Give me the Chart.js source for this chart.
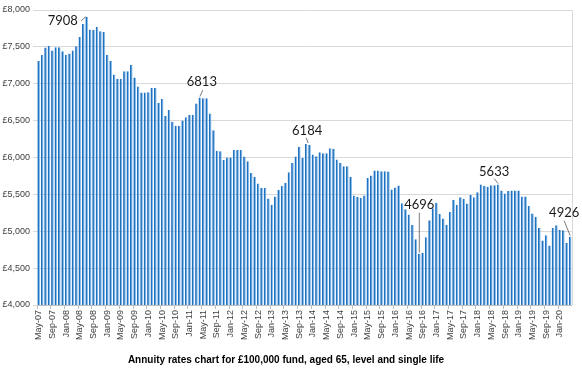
<!DOCTYPE html>
<html><head><meta charset="utf-8">
<script src="https://cdn.jsdelivr.net/npm/chart.js@4/dist/chart.umd.min.js"></script>
<style>html,body{margin:0;padding:0;background:#fff}#wrap{width:582px;height:380px;position:relative}</style>
</head><body><div id="wrap"><canvas id="c" width="582" height="380"></canvas></div>
<script>
// Monthly categories May-07 .. Apr-20
const monthNames = ['Jan','Feb','Mar','Apr','May','Jun','Jul','Aug','Sep','Oct','Nov','Dec'];
const startYear = 2007, startMonth = 4, monthCount = 156;
const categories = [];
for (let k = 0; k < monthCount; k++) {
  const m = (startMonth + k) % 12, y = startYear + Math.floor((startMonth + k) / 12);
  categories.push(monthNames[m] + '-' + String(y % 100).padStart(2, '0'));
}
// Annuity income (£ per year) for £100,000 fund
const annuityRates = [
  7310,7390,7490,7515,7452,7495,7495,7441,7390,7410,7452,7507,
  7635,7810,7908,7735,7730,7774,7713,7701,7390,7310,7126,7068,
  7068,7170,7170,7255,7086,6963,6882,6882,6886,6941,6941,6740,
  6792,6565,6645,6485,6432,6432,6502,6545,6578,6578,6733,6813,
  6805,6805,6595,6369,6092,6085,5966,6000,6000,6102,6102,6102,
  6012,5948,5791,5737,5647,5590,5590,5444,5358,5470,5561,5613,
  5656,5800,5926,6012,6145,5993,6184,6170,6040,6018,6072,6059,
  6059,6126,6117,5973,5928,5883,5883,5734,5486,5464,5455,5486,
  5721,5757,5824,5824,5813,5813,5811,5565,5592,5620,5380,5300,
  5228,5084,4892,4696,4708,4918,5150,5311,5386,5235,5172,5089,
  5265,5426,5359,5462,5438,5377,5490,5462,5530,5634,5615,5602,
  5625,5625,5633,5552,5512,5546,5552,5552,5552,5471,5471,5343,
  5242,5197,5044,4875,4945,4807,5048,5082,5021,5012,4841,4926
];
// Annotated points (category index) and their labels
const annotatedIndex = [14, 47, 78, 111, 134, 155];
const annotatedText  = ['7908','6813','6184','4696','5633','4926'];
const yTicks = [4000,4500,5000,5500,6000,6500,7000,7500,8000];
const titleText = 'Annuity rates chart for £100,000 fund, aged 65, level and single life';

// label placement (pixel offsets from bar top): text centre, leader start, leader end
const annLayout = [
  {dx:-24, dy:4,    l:[-5.5,4, -1,0]},
  {dx:2,   dy:-15.5,l:[3,-7.5, 0,-1]},
  {dx:1,   dy:-13.5,l:[0,-6, 2,-1]},
  {dx:0,   dy:-48.5,l:[0,-41, 0,-1]},
  {dx:-4,  dy:-13,  l:[-4,-6, 0,-1]},
  {dx:-6,  dy:-24,  l:[-6,-16, 0,-1]}
];

const annPlugin = {
  id: 'ann',
  afterDatasetsDraw(chart) {
    const {ctx, chartArea, scales} = chart;
    ctx.save();
    // right border of plot area
    ctx.strokeStyle = '#d9d9d9'; ctx.lineWidth = 1;
    ctx.beginPath(); ctx.moveTo(Math.round(chartArea.right)+0.5, chartArea.top); ctx.lineTo(Math.round(chartArea.right)+0.5, chartArea.bottom); ctx.stroke();
    ctx.font = '13px Lato';
    ctx.fillStyle = '#1a1a1a';
    ctx.textAlign = 'center'; ctx.textBaseline = 'middle';
    annotatedIndex.forEach((idx, k) => {
      const x = scales.x.getPixelForValue(idx);
      const y = scales.y.getPixelForValue(annuityRates[idx]);
      const L = annLayout[k];
      ctx.fillText(annotatedText[k], x + L.dx, y + L.dy);
      ctx.strokeStyle = '#595959'; ctx.lineWidth = 0.8;
      ctx.beginPath(); ctx.moveTo(x + L.l[0], y + L.l[1]); ctx.lineTo(x + L.l[2], y + L.l[3]); ctx.stroke();
    });
    ctx.restore();
  }
};

new Chart(document.getElementById('c'), {
  type: 'bar',
  data: {
    labels: categories,
    datasets: [{
      data: annuityRates,
      backgroundColor: '#1f71c1',
      borderColor: '#8cc0ea',
      borderWidth: {left:0, top:0, bottom:0, right:1},
      borderSkipped: false,
      barPercentage: 0.78,
      categoryPercentage: 1.0
    }]
  },
  options: {
    responsive: false,
    animation: false,
    devicePixelRatio: 1,
    layout: {padding: {top: 10, right: 10, left: 0, bottom: 0}},
    plugins: {
      legend: {display: false},
      tooltip: {enabled: false},
      title: {
        display: true, text: titleText, position: 'bottom',
        font: {family: 'Liberation Sans', size: 10, weight: 'bold'},
        color: '#000', padding: {top: 10, bottom: 14}
      }
    },
    scales: {
      x: {
        grid: {display: true, drawOnChartArea: false, tickLength: 4,
               color: (c) => (c.index % 4 === 0 ? '#bfbfbf' : 'rgba(0,0,0,0)')},
        border: {display: true, color: '#bfbfbf'},
        ticks: {autoSkip: false, minRotation: 90, maxRotation: 90, padding: 1,
                font: {family: 'Liberation Sans', size: 9}, color: '#404040',
                callback: (v, i) => (i % 4 === 0 ? categories[i] : '')},
        afterFit: (s) => { s.height = 39; }
      },
      y: {
        min: 4000, max: 8000,
        afterBuildTicks: (s) => { s.ticks = yTicks.map(v => ({value: v})); },
        grid: {color: '#d9d9d9', tickLength: 4, lineWidth: 1},
        border: {display: false},
        ticks: {padding: 3, font: {family: 'Liberation Sans', size: 9}, color: '#404040',
                callback: (v) => '£' + Number(v).toLocaleString('en-GB')},
        afterFit: (s) => { s.width = 37; }
      }
    }
  },
  plugins: [annPlugin]
});
</script></body></html>
